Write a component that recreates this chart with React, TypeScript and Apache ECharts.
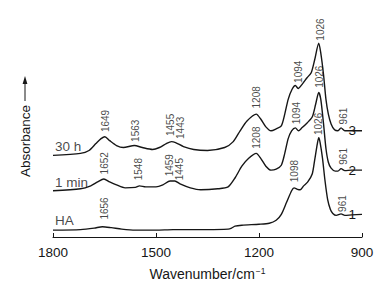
import React, { useEffect, useRef } from "react";
import * as echarts from "echarts";

// Wavenumber ticks
const xTicks = [1800, 1500, 1200, 900];

// Trace 1 (HA)
const w1 = [1800,1720,1680,1656,1630,1600,1560,1500,1450,1400,1350,1290,1280,1270,1250,1200,1170,1150,1135,1120,1105,1098,1088,1080,1070,1058,1045,1038,1030,1026,1022,1015,1008,1000,992,985,975,961,950,930,900];
const a1 = [7,7.5,9,10.5,9.5,8,7,7,7.5,7.5,7.5,8,9,11,12,13,14,17,23,35,47,50,48.5,48,52,56,64,78,95,101,96,80,58,38,28,24,22,23.5,22,22.5,23];

// Trace 2 (1 min)
const w2 = [1800,1720,1690,1670,1652,1635,1615,1590,1560,1548,1530,1500,1480,1459,1445,1430,1400,1370,1320,1290,1270,1250,1230,1208,1195,1180,1165,1150,1135,1125,1115,1105,1094,1085,1075,1060,1045,1035,1026,1020,1012,1005,998,990,978,970,961,950,930,900];
const a2 = [47,49,52,56,59,56,53,50,50.5,52,51,51,53,57,57,54,50,48,49,51,60,72,80,85,80,72,68,69,73,85,100,108,111,108,111,116,122,135,147,140,115,90,76,70,67,67,69.5,67.5,68,68];

// Trace 3 (30 h)
const w3 = [1800,1720,1695,1675,1660,1649,1635,1615,1595,1563,1540,1510,1490,1470,1455,1443,1420,1390,1350,1300,1275,1255,1235,1208,1195,1180,1165,1150,1135,1125,1115,1104,1094,1086,1075,1060,1048,1038,1026,1020,1012,1005,998,990,980,970,961,950,930,900];
const a3 = [83,85,88,95,100,102,98,93,91,93,91,89,91,95,97,96,92,89,88,91,97,108,118,125,120,112,108,110,113,125,140,150,154,151,155,162,167,180,197,187,165,140,125,115,109,108,111,108,108,108];

// Sample names (left) and curve numbers (right)
const sampleNames = ["HA", "1 min", "30 h"];
const sampleNameY = [17, 55, 92];
const curveNumbers = ["1", "2", "3"];

// Peak annotations
const peakText = ["1649","1563","1455","1443","1208","1094","1026","961","1652","1548","1459","1445","1208","1094","1026","961","1656","1098","1026","961"];
const peakX = [1646,1561,1459,1430,1206,1086,1022,955,1651,1550,1462,1433,1206,1092,1025,955,1651,1098,1028,958];
const peakY = [118,108,114,111,142,168,211,123,75,69,73,69,101,126,163,82,29,67,115,34];

const FONT = "'Liberation Sans', Arial, Helvetica, sans-serif";
const INK = "#161616";

export default function App() {
  const ref = useRef<HTMLDivElement>(null);
  useEffect(() => {
    if (!ref.current) return;
    const chart = echarts.init(ref.current, undefined, { renderer: "svg" });
    const traces = [
      { w: w1, a: a1 },
      { w: w2, a: a2 },
      { w: w3, a: a3 },
    ];
    const lineSeries = traces.map((t, i) => ({
      type: "line",
      data: t.w.map((w, j) => [w, t.a[j]]),
      showSymbol: false,
      smooth: 0.25,
      lineStyle: { color: INK, width: 1.4 },
      itemStyle: { color: INK },
      endLabel: {
        show: true,
        formatter: curveNumbers[i],
        distance: 6,
        fontSize: 13.5,
        fontFamily: FONT,
        color: INK,
      },
      silent: true,
    }));
    chart.setOption({
      animation: false,
      grid: { left: 53, right: 26, top: 1, bottom: 45 },
      xAxis: {
        type: "value",
        min: 900,
        max: 1800,
        interval: 300,
        inverse: true,
        axisLine: { show: true, lineStyle: { color: INK, width: 1 } },
        axisTick: { show: true, inside: true, length: 4, lineStyle: { color: INK } },
        axisLabel: {
          fontSize: 13.5,
          fontFamily: FONT,
          color: INK,
          margin: 8,
          formatter: (v: number) => (xTicks.includes(v) ? String(v) : ""),
        },
        splitLine: { show: false },
        name: "{a|Wavenumber/cm}{b|−1}",
        nameLocation: "middle",
        nameGap: 29,
        nameTextStyle: {
          rich: {
            a: { fontSize: 14, fontFamily: FONT, color: INK },
            b: { fontSize: 8.5, fontFamily: FONT, color: INK, padding: [0, 0, 7, 1] },
          },
        },
      },
      yAxis: {
        type: "value",
        min: 0,
        max: 240,
        show: false,
      },
      series: [
        ...lineSeries,
        {
          type: "scatter",
          symbolSize: 0,
          silent: true,
          data: sampleNames.map((n, i) => ({ value: [1800, sampleNameY[i]], name: n })),
          label: {
            show: true,
            position: "right",
            distance: 2,
            formatter: (p: any) => p.name,
            fontSize: 13.5,
            fontFamily: FONT,
            color: INK,
          },
        },
        {
          type: "scatter",
          symbolSize: 0,
          silent: true,
          data: peakText.map((t, i) => ({ value: [peakX[i], peakY[i]], name: t })),
          label: {
            show: true,
            position: "inside",
            rotate: 90,
            formatter: (p: any) => p.name,
            fontSize: 10,
            fontFamily: FONT,
            color: INK,
          },
        },
      ],
      graphic: [
        {
          type: "text",
          x: 25,
          y: 141,
          rotation: Math.PI / 2,
          style: {
            text: "Absorbance",
            fontSize: 13.5,
            fontFamily: FONT,
            fill: INK,
            align: "center",
            verticalAlign: "middle",
          },
        },
        {
          type: "line",
          shape: { x1: 25, y1: 101, x2: 25, y2: 83 },
          style: { stroke: INK, lineWidth: 1 },
        },
        {
          type: "polygon",
          shape: { points: [[25, 76], [22.6, 84], [27.4, 84]] },
          style: { fill: INK },
        },
      ],
    });
    return () => chart.dispose();
  }, []);
  return (
    <div
      ref={ref}
      style={{ position: "absolute", left: 0, top: 0, width: 388, height: 286 }}
    />
  );
}
